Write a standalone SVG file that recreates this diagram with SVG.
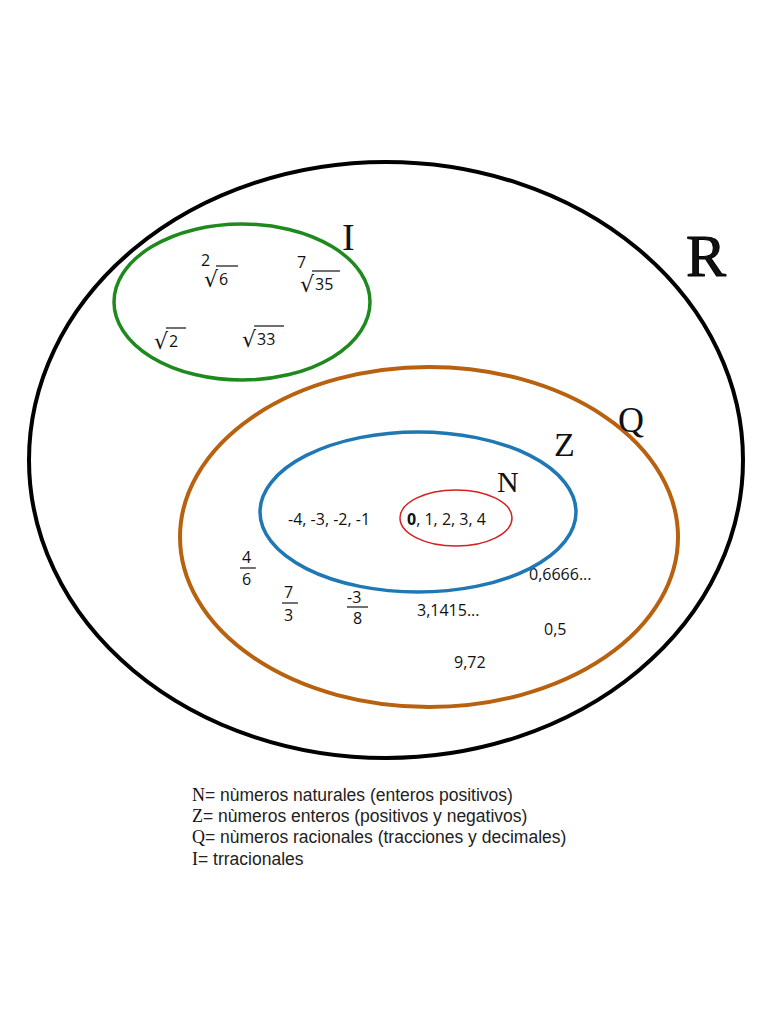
<svg xmlns="http://www.w3.org/2000/svg" width="768" height="1024" viewBox="0 0 768 1024">
<style>
.s{font-family:"Open Sans","Noto Sans",sans-serif;font-size:16px;fill:#111}
.r{font-family:"DejaVu Sans",sans-serif;font-size:22px;fill:#111}
.b{font-family:"Liberation Serif",serif;fill:#111}
.l{font-family:"Liberation Sans",Arial,sans-serif;font-size:17.5px;fill:#222}
.ov{stroke:#111;stroke-width:1.2}
</style>
<rect width="768" height="1024" fill="#fff"/>
<g id="R"><ellipse cx="386" cy="460" rx="357" ry="298" fill="none" stroke="#000" stroke-width="4"/><text class="b" x="686" y="276" font-size="60" stroke="#000" stroke-width="1">R</text></g>
<g id="I"><ellipse cx="242" cy="302" rx="128" ry="78" fill="none" stroke="#1e8a1e" stroke-width="3.5"/><text class="b" x="342" y="250" font-size="38">I</text>
<text class="s" x="201" y="266" font-size="9">2</text><text class="r" x="204" y="287">√</text><text class="s" x="219" y="285" font-size="17">6</text><line class="ov" x1="216" y1="266" x2="238" y2="266"/>
<text class="s" x="297" y="268" font-size="9">7</text><text class="r" x="300" y="292">√</text><text class="s" x="315" y="290" font-size="17">35</text><line class="ov" x1="312" y1="271" x2="340" y2="271"/>
<text class="r" x="154" y="349">√</text><text class="s" x="169" y="347" font-size="17">2</text><line class="ov" x1="166" y1="328" x2="186" y2="328"/>
<text class="r" x="242" y="347">√</text><text class="s" x="257" y="345" font-size="17">33</text><line class="ov" x1="254" y1="326" x2="284" y2="326"/></g>
<g id="Q"><ellipse cx="429" cy="537" rx="249" ry="170" fill="none" stroke="#b8610f" stroke-width="4"/><text class="b" x="618" y="432" font-size="36">Q</text>
<text class="s" x="242" y="563" font-size="15">4</text><line class="ov" x1="240" y1="568" x2="256" y2="568"/><text class="s" x="242" y="585" font-size="15">6</text>
<text class="s" x="284" y="598" font-size="15">7</text><line class="ov" x1="282" y1="603" x2="298" y2="603"/><text class="s" x="284" y="621" font-size="15">3</text>
<text class="s" x="347" y="603" font-size="15">-3</text><line class="ov" x1="347" y1="607" x2="368" y2="607"/><text class="s" x="353" y="624" font-size="15">8</text>
<text class="s" x="529" y="580" font-size="15">0,6666...</text>
<text class="s" x="417" y="616" font-size="15">3,1415...</text>
<text class="s" x="544" y="635" font-size="15">0,5</text>
<text class="s" x="454" y="668" font-size="15">9,72</text></g>
<g id="Z"><ellipse cx="418" cy="512" rx="158" ry="80" fill="none" stroke="#1f77b4" stroke-width="3.5"/><text class="b" x="554" y="456" font-size="34">Z</text>
<text class="s" x="288" y="525" font-size="15">-4, -3, -2, -1</text></g>
<g id="N"><ellipse cx="456" cy="518" rx="56" ry="28" fill="none" stroke="#d42020" stroke-width="1.5"/><text class="b" x="497" y="492" font-size="30">N</text>
<text class="s" x="407" y="525" font-size="15"><tspan font-weight="bold">0</tspan>, 1, 2, 3, 4</text></g>
<g id="legend">
<text class="l" x="192" y="801"><tspan class="b" font-size="18">N</tspan>= nùmeros naturales (enteros positivos)</text>
<text class="l" x="192" y="822"><tspan class="b" font-size="18">Z</tspan>= nùmeros enteros (positivos y negativos)</text>
<text class="l" x="192" y="843"><tspan class="b" font-size="18">Q</tspan>= nùmeros racionales (tracciones y decimales)</text>
<text class="l" x="192" y="865"><tspan class="b" font-size="18">I</tspan>= trracionales</text>
</g>
<g id="connectors"/>
</svg>
